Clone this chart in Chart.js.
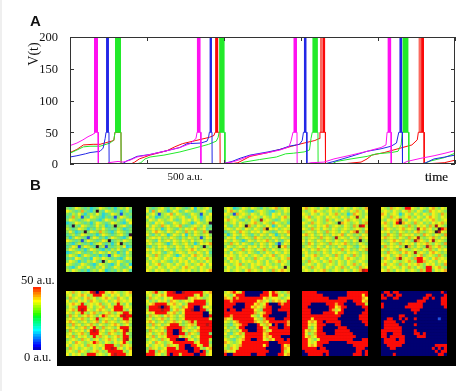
<!DOCTYPE html>
<html lang="en">
<head>
  <meta charset="UTF-8">
  <title>Membrane potential traces and lattice snapshots</title>
  <script src="https://cdn.jsdelivr.net/npm/chart.js"></script>
  <style>
    html, body { margin: 0; padding: 0; background: #fff; }
    body { position: relative; width: 474px; height: 391px; overflow: hidden; }
    canvas { position: absolute; display: block; }
    .txt { position: absolute; white-space: nowrap; font-family: "Liberation Serif", serif; color: #111; line-height: 1; }
    .head { font-family: "Liberation Sans", sans-serif; font-weight: bold; font-size: 15px; color: #111; }
    #edge { position: absolute; left: 0; top: 0; width: 2px; height: 391px; background: #efefef; }
    #blackBox { position: absolute; left: 57px; top: 197px; width: 399px; height: 169px; background: #000; }
    .heat { filter: blur(0.6px); }
  </style>
</head>
<body>
  <div id="edge"></div>
  <canvas id="traceChart" width="474" height="190" style="left:0;top:0;filter:blur(0.3px)"></canvas>
  <div id="blackBox"></div>
  <canvas id="colorBar" width="8" height="63" style="left:33px;top:287px"></canvas>

  <div class="txt head" style="left:30px;top:13px">A</div>
  <div class="txt head" style="left:30px;top:177px">B</div>
  <div class="txt" style="left:34px;top:54px;font-size:14px;transform:translate(-50%,-50%) rotate(-90deg)">V(t)</div>
  <div class="txt" style="left:185px;top:171px;font-size:11px;transform:translateX(-50%)">500 a.u.</div>
  <div class="txt" style="left:425px;top:170px;font-size:13px;-webkit-text-stroke:0.2px #111">time</div>
  <div class="txt" style="left:21px;top:274px;font-size:12.5px">50 a.u.</div>
  <div class="txt" style="left:24px;top:351px;font-size:12.5px">0 a.u.</div>

  <script>
    // panel A, time in a.u., voltage
    const magentaT = [0,45,84,117,143,156,159,182,184, 240,247,312,344,390,435,520,630,714,779,818,825,849,850, 942,1000,1052,1104,1169,1286,1364,1422,1435,1448,1474,1475, 1526,1565,1649,1714,1825,1929,2020,2052,2059,2085,2086, 2156,2188,2279,2364,2435,2500];
    const magentaV = [29,33,38,43,46,48,50,50,0, 0,2,4,3,6,11,15,21,26,32,40,50,50,0, 0,1,3,7,13,18,22,27,36,50,50,0, 0,2,3,8,14,20,26,30,50,50,0, 0,4,9,13,17,21];
    const blueT = [0,45,100,130,195,215,228,234,253,254, 338,370,400,435,520,630,714,760,850,890,900,905,922,923, 990,1000,1052,1104,1169,1286,1364,1422,1490,1508,1516,1537,1538, 1649,1714,1825,1929,2020,2085,2120,2135,2158,2159, 2280,2310,2364,2435,2500];
    const blueV = [11,13,16,18,20,25,40,50,50,0, 0,5,8,12,15,21,26,32,33,36,42,50,50,0, 0,1,4,9,14,19,23,28,31,37,50,50,0, 0,4,12,20,24,28,33,50,50,0, 0,2,8,11,14];
    const greenT = [0,45,87,130,195,260,285,292,331,332, 430,460,487,520,610,714,825,900,950,962,968,1005,1006, 1095,1130,1230,1340,1400,1450,1520,1555,1565,1573,1610,1611, 1700,1730,1825,1929,1990,2085,2130,2150,2158,2199,2200, 2290,2345,2430,2500];
    const greenV = [17,22,27,28,28,33,38,50,50,0, 0,2,8,11,14,19,26,31,36,42,50,50,0, 0,3,7,11,16,17,19,22,40,50,50,0, 0,4,8,12,16,18,20,30,50,50,0, 0,5,10,17];
    const redT = [0,45,87,150,195,240,285,292,331,332, 395,420,450,520,630,680,730,818,905,935,942,974,975, 1040,1090,1130,1169,1286,1380,1440,1520,1590,1617,1623,1658,1659, 1760,1890,1929,1960,2040,2130,2220,2255,2262,2299,2300, 2430,2500];
    const redV = [18,23,30,31,31,34,37,50,50,0, 0,3,8,14,21,27,32,37,42,45,50,50,0, 0,2,7,12,18,24,28,33,37,40,50,50,0, 0,3,8,14,18,24,30,38,50,50,0, 2,6];

    // spike trains, start and end of each burst
    const magentaBurstStart = [156, 823, 1450, 2061];
    const magentaBurstEnd = [182, 849, 1474, 2087];
    const blueBurstStart = [234, 905, 1518, 2138];
    const blueBurstEnd = [253, 922, 1537, 2158];
    const greenBurstStart = [292, 968, 1573, 2158];
    const greenBurstEnd = [331, 1005, 1610, 2199];
    const redBurstStart = [292, 942, 1638, 2280];
    const redBurstEnd = [331, 964, 1658, 2299];
    const redSparseStart = [1623, 2262];
    const redSparseEnd = [1638, 2280];

    const xTicks = [0, 500, 1000, 1500, 2000, 2500];
    const yTicks = [0, 50, 100, 150, 200];
    const scaleBarT = [500, 1000];

    // panel B, one letter per lattice site
    const panel1 = ["gtgylgtgctgylgtgcglgyg","ylgtgogtcgkgtylgtgcglt","gtlgygcglgygctgylgbgtg","tgoglbgtylgtcgtgbgylgt","gylgtglyggtcgylgtlgtyl","ctgylgtgcgylgtgylgtcgy","gtkgtylgtgyglctgkglygt","lgtgylgcgtlgygtgtlgctg","gygctgkgylgolgtcgylgtg","tgltgylgtgcgylgtglygtk","gcgylgtbgyltgcgylgtcgy","ylgtgbgylgtgylktglgylg","gtcglgtgcglygtgcgykgtg","tgylbgylgtkglbgtglgyct","gylgtgcgylgtcgtlgygtgy","ctglygtgtlgylgyglcgtyg","gylgcgylgtgcgtbgylgtlg","tgtylgtgcylgylgtgtcgyl","gylgcgtlgygtkgylgylgtg","ylgtgylgtcgylgtcgytglc","gtcgylgygtlgygtgylgtgy","lgylgtgcglgylctgtlgylt"];
    const panel2 = ["lgtglygtlgylgtgyclglyg","ytogylgcgyltgylgtglygt","glygbglyogylgtgylgblgy","yglctglgylglygtlygcgyl","gylgylglygtgylygyltgyl","lgtylygtgylgylgcgylglk","ygylgolyglyogtglylgygt","glyglcgylgtlgylyoglytg","lgyoylgylgylgolgylgolk","ygtlgylcgylgyclgylglyg","glylyglgylgtlgylglbgyl","ylgtyglygylgylgyglyglg","lyglylgcgylglyglcgylyo","gtlgylyglgylgylgylgkgl","ylyglgylgtylglyoyglylg","lgylygtlyglylgylgylgyt","ylgolglylgcgylgyolyglg","gylylgylgylylgylgylyol","lgylgylgtlgylygylglgyl","yglyoglylgylgylglyoygy","lylgylgylylgyolylgylgl","ylgylylgylglylyglgylyo"];
    const panel3 = ["lylctgylgylgtlglyoglyl","gyolgylgtcglylgtcglgyl","ylgbolylgylgylgtylyglg","lgylgylgolylgylgylgyol","yolylgtlgylgdlylgtgylg","lglygylglyolgylgoylglt","ygtlgylkolgylgylcgylgy","lylgylgylgylgokylyglyl","tglygoylgylygylgtgylyo","lcgylgylgtlgylgylcglgy","gylytglylgoylglgylgylg","ylgylgcgylgylyolgygtly","lgolygylgtlgylgyltbgyl","gylglylgylygylgyglkyog","yltylgolylgylolgylglyl","lgyglylgylgtlgylgylgyl","ylylgylyglylgylyoglylg","gyolglyglgolylglylgylo","lgylygylylgylgyglyolyg","ylglyoglgylylgylglgylg","gylgylylgylgoylylyglkl","lyglylgyolylgylgolyoyl"];
    const panel4 = ["yolylgylgylylgylgylglo","lglyoylglyglgylgylolgy","ylgylgylgylolglcgoylgl","lyoglylgylylgylgyldlgy","glylgylgolgylgyolylgyl","ylgolylglylgkoylglyglo","lgylgylyoglylgylgoldrl","ylgolygylgylglylglylgy","glylgylgolylgylgyodlgo","yolyglyglgylyogylglgyl","lglylgolylgdlylgylgoly","ygylgylgylgylgylgylkgl","lgoyglylgolylyolglgylg","glylgylgyglgylgylgtlyl","ylgylolylgylgolyglgylo","lyglglgylgylylgylylglg","gylyolglylgolgylgolgyl","ylgylgylgylylgyoylglyl","lgolylgylolgylgylglylg","glylgylglylgylgylolgyl","ylgolylgylgylolgylgoly","lylgylyolglylgylgylodr"];
    const panel5 = ["ylgolylgrrylgylgyolgyl","lylgylgylolgyltgoylylg","oyglylcgylgylgylgylgol","ylgolyglyolgylgyoylgyl","lgylyodlgylylgylyolgly","yolgyrkoylgolyglgylyol","lylgylylgolgylygoldylg","goylglyolylgdyolyglkro","ylyglgylglgyolglylkdyl","lgoylgolylyglgoylgylgo","yolylgylgolydlglyolgyl","lglyoylgylgdoylgydlylg","ylgylgolylygylyolgylgo","golylyglkolgylgdolyolg","ylgylgoylglylgylolgyly","lgolylgyoyldlylgyoylgl","ylyglyolgylgyoglylgolg","goylgodlylgorrylgyolyl","lylgylglyolgrrolylgyly","yolylgolgylyolgylyglgo","lgylylgylolgylgrrlyolg","ylolgylyglylgolrrgylyo"];
    const panel6 = ["ylolyglyrdnrrlyoylglyo","lyglyoyglrrrylgylyglyl","golylgyolyglyoylgoylgy","yglgylygoylglyglyolyly","lyoylrglylyoglyglrlgyg","gylgrrrlyglyogylrrrlyl","lyolrdrylgyoylgyrrrlgy","ylgylrlgyolglyolgylrrl","golyglyoylgyrolylyrdrr","lyglyolgylrglylgyglrrl","yoylglyglyogyolylglyol","lgolyglyolgylglyoyglyg","ylyglyogyrlgolylgyrrrl","golylygyrdrlyglyolyrdl","lyglyolgrrrylgoylglrlg","ylogylyglrlolyglyolrrg","glylgolyglyglyolyglrdl","lygoylglyrolgylgylyrlg","yglylygolylylrrrlgolyl","golyglylgylgyrrdrlygyo","lylgoylglyolglrrrrrlgy","ygylyglrrrlylgyrdrrrly"];
    const panel7 = ["ylorlgyrrdnndrrrrrrlyo","lyglyoyrrrrrrrrrlyrlgy","golylgylyrrrrdlyoylgly","yglgylygoylglylyrrrrly","lyorrrrlyolyglrrrrrrgy","grrrdndrlylgoyrrnnrlyl","lrrrrdrrgyolyrrdnnrrgy","ylyrrrrlyolgyrrrrrrnnl","golylgyoylgylrrrrrrnnr","lyglyolgylglyrrrrrrrrl","yoyglyglyolyglorlrrrrr","lgolyglyrrrlglyolrrrdr","ylyglyorrrrrolylgyrrrr","golylygrrnnrlyglyorrrr","lyglyolrrnnrrgoylgrrrg","ylogylyrrrrlolyglyrrrr","glylgolyrrknnrlyglrrrl","lygoylglyrrrrrrrlyrrrg","yglylygolylrrnnrrylrrl","golyglyrrrlrrnnnrrlgyo","lrrgoylrrrrrrrnnrrnrgy","rrrlyglrnrrlrrrrnnrrly"];
    const panel8 = ["lyorylrnnnnnnrryrolglo","ylgyrrrnnnnnrrryrrlygl","oylrorrrrrrrryolyylgly","rrorrrrrrrryolygoyoylr","rrrrnnnrrryolyrnnnrorr","rrrnnnnrryoylorrnnnrrr","rnrrnnrrrrylgrrrnnrrrr","rrrrrrrrrrolyorrnnnnnr","rrorrrrrrylgyrrnnnnnnr","oylrrrrrrrylgorrrnnnrr","ylgyorrrrroyloyrrrrrro","lgtlyorrnnnryloynrnnro","yglgyrrnnnnrrylrrrnnrr","lyglgyrrnnnrrolyrrrrrr","ygtlyolrrrrrryorrrrrrr","lgylglyrrrrrryoyrrrnnn","ylgtlyorrnnrryloyrrrnr","oylglyrrrrrrrrrnnnrrrr","yglylorrrrrrryrnnnnryo","lgoylrrrrrrrrrnnnnnroy","oylyrrrrrrrrrrrnnnnrly","rnnrrrrrrnnrrrnnnnrryo"];
    const panel9 = ["rrrrrnnnnnnnnnnrrrrrrr","rrrrrrrnnnnnnnnrrrrryr","rrrrrrrrrnnnrrrrrrrroy","rrrrrrrrrrrrrrrnnrrryo","rrrnnnnnrrrorrnnnnrrrl","rrnnnnnnnrryorrnnnnnrr","rrrnnnnnnrolyrnnnnnnnr","rrrnnnnrrrryrrnnnnnnrr","rrrrrrrrrrrrrnnnnnnrrr","rrryrrrrrrrrnnnnnnnrrr","rryoyrrnrrrrrnnnnnnnrr","rrylyrrrnnnrrnnnnnnnnr","rrlgyrrnnnnnrrrnnnnnnn","ryolyrrnnnnrrrrrnnnnnn","ryglorrrnnnrrrrrrnnnnn","ryolyrrrrrrrrrrrrrnnnn","rrylgyrrrrrrrrrrrnnnrr","rrylyrrrrnnnnnnrrrrrrr","rryoyrrnnnnnnnnnnrrrrr","rrrrrnrrnnnnnnnnnnrrrn","nrrrrrrrrnnnnnnnnnrrnr","nnrrrrrnrnnnnnnnnrrrnr"];
    const panel10 = ["nrrnrrnnnnnnnnnnnnnnrn","rnrrnrrnnnnnnnnrrnnnnr","rrnnrrnnnnnnnnrrnrnnrr","nnnnnnnnnnnnrrrnnnnnrr","rnnnnnnnnrrrrrnnnnnnrr","rnnnnnnnrrrrrrnnnnnnnr","nnnnnnnnnnrrrnnnnnnnnn","nnnnnnnnnnnrnnnnnnnnnn","nnnnnnrrnnnnnnnnnnnnnn","nnrrnnrnrnnrnnnnnnnbnn","nrrrrnnrnnnnnnnnnnnnnn","nrrrrrnnnnnrnnnnnnnnnn","nrrrrrrnnnnnnnnnnnnnnn","rrrrrrrnnnnrnnnnnnnnnn","rrnnrrrnnnnrrnrnnnnnnn","rrnrrrrrnnnnrrrnnnnnnn","nrrrrnrrnnnnnnnnnnnnnn","nrrrrrrrnnnnnnnnnnnnnn","nnrrrrrnnnnnnnnnnnrrrr","nnnrrnnnnnnnnnnnnrnrnr","nnnnnnnnnnnnnnnnnnrnrr","nnnnrnnnnnnnnnnnnnnrrn"];
    const panels = [panel1, panel2, panel3, panel4, panel5, panel6, panel7, panel8, panel9, panel10];

    const siteColors = { n: '#000072', b: '#2050e0', c: '#28d4d8', t: '#58e0a0', g: '#86e660', l: '#bdee2e',
      y: '#f5f01a', o: '#f5a81e', r: '#fb0c08', d: '#b01818', k: '#301030' };

    // colour bar, top level first
    const barLevels = ['#ff2a00','#ff5500','#ff8000','#ffaa00','#ffd500','#ffff00','#d5ff00','#aaff00','#80ff00','#55ff00','#2aff00','#00ff2a','#00ff55','#00ff80','#00ffaa','#00ffd5','#00ffff','#00d5ff','#00aaff','#0080ff','#0055ff','#002aff','#0000ff','#0000c8'];

    const pairUp = (ts, vs) => ts.map((t, i) => ({ x: t, y: vs[i] }));

    const traceDatasets = [];
    function addNeuron(color, ts, vs, starts, ends) {
      starts.forEach((s, i) => {
        traceDatasets.push({
          data: [{ x: s, y: 200 }, { x: ends[i], y: 200 }],
          borderWidth: 0,
          backgroundColor: color,
          fill: { value: 50 },
          pointRadius: 0
        });
      });
      traceDatasets.push({ data: pairUp(ts, vs), borderColor: color, borderWidth: 1, pointRadius: 0, fill: false });
    }
    addNeuron('#ff10f0', magentaT, magentaV, magentaBurstStart, magentaBurstEnd);
    addNeuron('#2226e6', blueT, blueV, blueBurstStart, blueBurstEnd);
    addNeuron('#22ea2a', greenT, greenV, greenBurstStart, greenBurstEnd);
    addNeuron('#fa0a0a', redT, redV, redBurstStart, redBurstEnd);
    redSparseStart.forEach((s, i) => {
      traceDatasets.push({
        data: [{ x: s, y: 200 }, { x: redSparseEnd[i], y: 200 }],
        borderWidth: 0, backgroundColor: '#fb6a60', fill: { value: 50 }, pointRadius: 0
      });
    });
    // the 500 a.u. scale bar under the axis
    traceDatasets.push({
      data: scaleBarT.map(t => ({ x: t, y: -7 })),
      borderColor: '#444', borderWidth: 1, pointRadius: 0, clip: false, fill: false
    });

    // frame with ticks pointing inwards on all four sides
    const insideTicks = {
      id: 'insideTicks',
      afterDatasetsDraw(chart) {
        const { ctx, chartArea: a, scales } = chart;
        ctx.save();
        ctx.strokeStyle = '#333';
        ctx.lineWidth = 1;
        ctx.strokeRect(a.left + 0.5, a.top + 0.5, a.right - a.left - 1, a.bottom - a.top - 1);
        ctx.beginPath();
        xTicks.forEach(t => {
          const x = Math.round(scales.x.getPixelForValue(t)) + 0.5;
          ctx.moveTo(x, a.top); ctx.lineTo(x, a.top + 4);
          ctx.moveTo(x, a.bottom); ctx.lineTo(x, a.bottom - 4);
        });
        yTicks.forEach(v => {
          const y = Math.round(scales.y.getPixelForValue(v)) + 0.5;
          ctx.moveTo(a.left, y); ctx.lineTo(a.left + 4, y);
          ctx.moveTo(a.right, y); ctx.lineTo(a.right - 4, y);
        });
        ctx.stroke();
        ctx.restore();
      }
    };

    new Chart(document.getElementById('traceChart'), {
      type: 'line',
      data: { datasets: traceDatasets },
      plugins: [insideTicks],
      options: {
        responsive: false,
        animation: false,
        events: [],
        layout: { autoPadding: false, padding: { top: 37, right: 19 } },
        plugins: { legend: { display: false }, tooltip: { enabled: false } },
        scales: {
          x: {
            type: 'linear', min: 0, max: 2500,
            grid: { display: false }, border: { display: false },
            ticks: { display: false },
            afterFit(s) { s.height = 26; }
          },
          y: {
            min: 0, max: 200,
            grid: { display: false }, border: { display: false },
            afterBuildTicks(s) { s.ticks = yTicks.map(v => ({ value: v })); },
            ticks: { color: '#111', padding: 4, labelOffset: 1, font: { family: '"Liberation Serif", serif', size: 12.5 } },
            afterFit(s) { s.width = 70; }
          }
        }
      }
    });

    new Chart(document.getElementById('colorBar'), {
      type: 'bar',
      data: {
        labels: barLevels.map((c, i) => i),
        datasets: [{ data: barLevels.map(() => 1), backgroundColor: barLevels, barPercentage: 1, categoryPercentage: 1, borderWidth: 0 }]
      },
      options: {
        indexAxis: 'y',
        responsive: false,
        animation: false,
        events: [],
        layout: { autoPadding: false, padding: 0 },
        plugins: { legend: { display: false }, tooltip: { enabled: false } },
        scales: { x: { display: false, min: 0, max: 1 }, y: { display: false } }
      }
    });

    // one small scatter chart per snapshot, square points fill the lattice
    const panelLeft = [66, 146, 224, 302, 381];
    const panelTop = [207, 291];
    const panelW = 66;
    const panelH = 65;
    const sites = 22;

    panels.forEach((rows, p) => {
      const cv = document.createElement('canvas');
      cv.width = panelW;
      cv.height = panelH;
      cv.className = 'heat';
      cv.style.left = panelLeft[p % 5] + 'px';
      cv.style.top = panelTop[Math.floor(p / 5)] + 'px';
      document.body.appendChild(cv);

      const pts = [];
      const cols = [];
      rows.forEach((row, r) => {
        row.split('').forEach((ch, c) => {
          pts.push({ x: c + 0.5, y: r + 0.5 });
          cols.push(siteColors[ch]);
        });
      });

      new Chart(cv, {
        type: 'scatter',
        data: { datasets: [{ data: pts, pointStyle: 'rect', pointRadius: 2.4, pointBorderWidth: 0, backgroundColor: cols }] },
        options: {
          responsive: false,
          animation: false,
          events: [],
          layout: { autoPadding: false, padding: 0 },
          plugins: { legend: { display: false }, tooltip: { enabled: false } },
          scales: {
            x: { display: false, min: 0, max: sites },
            y: { display: false, min: 0, max: sites, reverse: true }
          }
        }
      });
    });
  </script>
</body>
</html>
